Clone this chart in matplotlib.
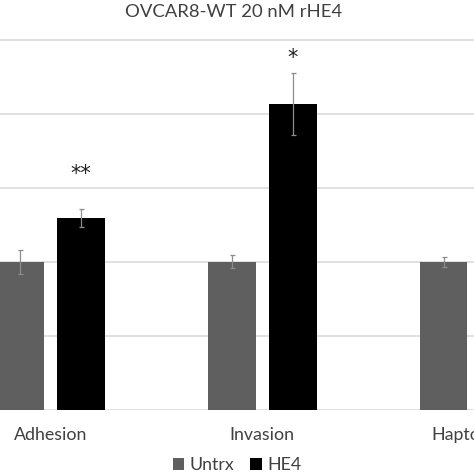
import matplotlib.pyplot as plt
import numpy as np

categories = ["Adhesion", "Invasion", "Haptotaxis"]
untrx = [1.0, 1.0, 1.0]
untrx_err = [0.08, 0.045, 0.034]
he4 = [1.294, 2.067, 1.5]
he4_err = [0.06, 0.21, 0.05]
stars = ["**", "*", ""]

plt.rcParams['font.family'] = ['Lato', 'DejaVu Sans']

fig = plt.figure(figsize=(4.74, 4.74), dpi=100)
# the source picture is a crop of a wider chart, so the axes run past the edges
ax = fig.add_axes([0, 0.136, 1, 0.3118 * 2.6])

x = np.arange(len(categories))
w = 0.2256
off = 0.144
ax.bar(x - off, untrx, w, color='#5f5f5f', label='Untrx', zorder=2)
ax.bar(x + off, he4, w, color='black', label='HE4', zorder=2)
ax.errorbar(x - off, untrx, yerr=untrx_err, fmt='none', ecolor='#8c8c8c',
            elinewidth=0.9, capsize=1.8, capthick=0.9, zorder=3)
ax.errorbar(x + off, he4, yerr=he4_err, fmt='none', ecolor='#8c8c8c',
            elinewidth=0.9, capsize=1.8, capthick=0.9, zorder=3)

star_gap = [0.24, 0.10, 0.1]
for i, s in enumerate(stars):
    if s:
        ax.text(x[i] + off, he4[i] + he4_err[i] + star_gap[i], s, ha='center',
                va='center', fontsize=15, color='#202020', family='DejaVu Sans')

ax.set_xlim(-0.2386, 1.966)
ax.set_ylim(0, 2.6)
ax.set_yticks(np.arange(0, 2.51, 0.5))
ax.yaxis.grid(True, color='#d9d9d9', linewidth=1.1, zorder=0)
ax.set_axisbelow(True)
for sp in ax.spines.values():
    sp.set_visible(False)
ax.tick_params(left=False, labelleft=False, bottom=False)
ax.set_xticks(x)
ax.set_xticklabels(categories, fontsize=12.8, color='#404040')
ax.tick_params(axis='x', pad=9)

fig.text(0.492, 1 - 12 / 474, "OVCAR8-WT 20 nM rHE4", ha='center', va='center',
         fontsize=13.3, color='#404040')
fig.legend(loc='center', bbox_to_anchor=(0.5, 0.018), ncol=2, frameon=False,
           fontsize=12.8, handlelength=0.65, handleheight=0.65, handletextpad=0.3,
           columnspacing=0.9, labelcolor='#404040')

fig.savefig('out.png', dpi=100)
